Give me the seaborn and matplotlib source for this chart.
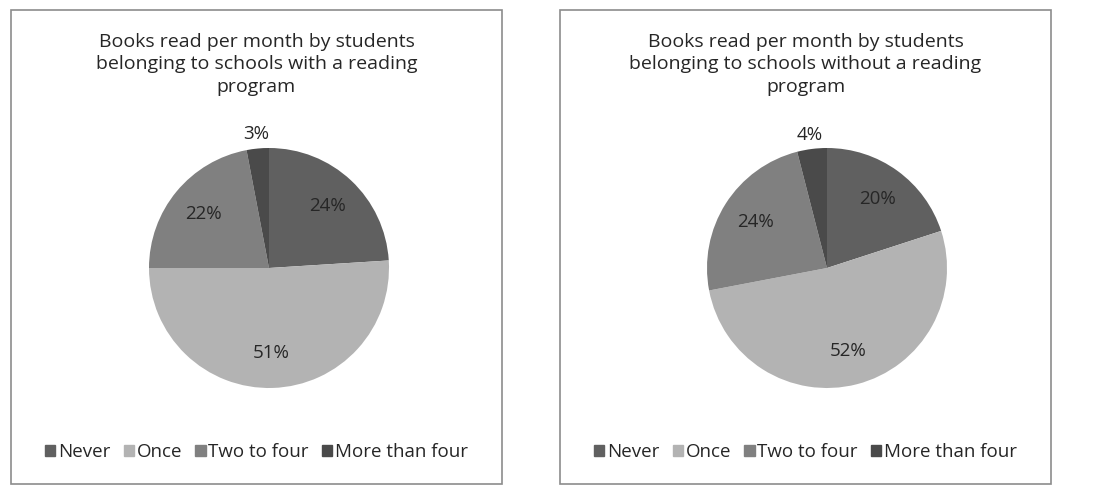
import numpy as np
import matplotlib
matplotlib.use("Agg")
import matplotlib.pyplot as plt
import matplotlib.patches as mpatches
import seaborn as sns

sns.set_theme(style="white")
plt.rcParams['font.family'] = ['Open Sans', 'DejaVu Sans']

# data
categories = ["Never", "Once", "Two to four", "More than four"]
with_program = [24, 51, 22, 3]
without_program = [20, 52, 24, 4]
titles = ["Books read per month by students\nbelonging to schools with a reading\nprogram",
          "Books read per month by students\nbelonging to schools without a reading\nprogram"]
colors = ["#606060", "#b3b3b3", "#808080", "#4a4a4a"]

W, H = 1107, 497
fig = plt.figure(figsize=(W / 100, H / 100), dpi=100)
fig.patch.set_facecolor("white")

def px(x0, y0, w, h):
    # pixel box (top-left origin) to figure fraction
    return [x0 / W, 1 - (y0 + h) / H, w / W, h / H]

panels = [(11, 491, 269), (560, 491, 827)]  # left, width, pie center x
for (pl, pw, cx), vals, title in zip(panels, [with_program, without_program], titles):
    # panel border
    b = px(pl, 10, pw, 474)
    fig.add_artist(mpatches.Rectangle((b[0], b[1]), b[2], b[3], transform=fig.transFigure,
                                      fill=False, edgecolor="#8c8c8c", linewidth=1.2))
    r = 120
    ax = fig.add_axes(px(cx - r, 268 - r, 2 * r, 2 * r))
    wedges, _ = ax.pie(vals, colors=colors, startangle=90, counterclock=False,
                       radius=1, wedgeprops=dict(linewidth=0))
    ax.set_xlim(-1, 1)
    ax.set_ylim(-1, 1)
    ax.set_aspect("equal")
    ax.axis("off")
    for w, v in zip(wedges, vals):
        ang = np.deg2rad((w.theta1 + w.theta2) / 2)
        d = 0.71 if v > 5 else 1.12
        ax.text(d * np.cos(ang), d * np.sin(ang), f"{v}%", ha="center", va="center",
                fontsize=13.5, color="#262626")
    mid = (pl + pw / 2) / W
    fig.text(mid, 1 - 33 / H, title, ha="center", va="top",
             fontsize=14, color="#262626", linespacing=1.32)
    handles = [mpatches.Patch(color=c, label=l) for c, l in zip(colors, categories)]
    fig.legend(handles=handles, loc="center", bbox_to_anchor=(mid, 1 - 452 / H),
               ncol=4, frameon=False, fontsize=13.5, handlelength=0.55, handleheight=0.55,
               handletextpad=0.15, columnspacing=0.7, labelcolor="#262626")

fig.savefig("out.png", dpi=100, facecolor="white")
